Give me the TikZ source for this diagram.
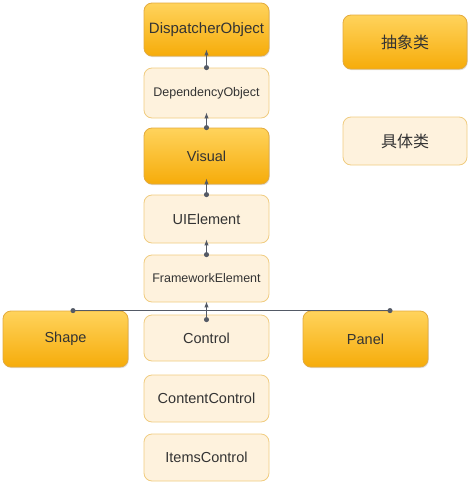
\documentclass[tikz,border=0pt]{standalone}
\usepackage{fontspec}
\setmainfont{Liberation Sans}
\newfontfamily\cjk{Noto Sans CJK SC}
\usetikzlibrary{arrows.meta,shadows}
\definecolor{txt}{HTML}{333333}
\definecolor{absTop}{HTML}{FFD35C}
\definecolor{absBot}{HTML}{F6AC0A}
\definecolor{absBorder}{HTML}{E3AA3C}
\definecolor{conFill}{HTML}{FEF2DD}
\definecolor{conBorder}{HTML}{F0CC80}
\definecolor{lineC}{HTML}{545A66}
\tikzset{
  box/.style={rounded corners=8pt, minimum width=125pt, inner sep=0pt, text=txt, font=\fontsize{14.5}{16}\selectfont, line width=0.8pt},
  absbox/.style={box, draw=absBorder, top color=absTop, bottom color=absBot, drop shadow={shadow xshift=0.8pt, shadow yshift=-1.2pt, opacity=0.25}},
  conbox/.style={box, draw=conBorder, fill=conFill},
  small/.style={font=\fontsize{12.5}{14}\selectfont},
  conn/.style={draw=lineC, line width=1pt, {Circle[length=5pt]}-{Latex[length=6pt,width=4.5pt]}, shorten <=-2.5pt},
  hline/.style={draw=lineC, line width=1pt, {Circle[length=5pt]}-{Circle[length=5pt]}, shorten <=-2.5pt, shorten >=-2.5pt}
}
\begin{document}
\begin{tikzpicture}[x=1pt,y=-1pt]
\useasboundingbox (0,0) rectangle (474,488);
\node[absbox, minimum height=53pt, font=\fontsize{15}{17}\selectfont] (disp) at (206.5,29.5) {DispatcherObject};
\node[conbox, small, minimum height=50pt] (dep) at (206.5,93) {DependencyObject};
\node[absbox, minimum height=56pt] (vis) at (206.5,156) {Visual};
\node[conbox, minimum height=48pt] (ui) at (206.5,219) {UIElement};
\node[conbox, small, minimum height=47pt] (fw) at (206.5,278.5) {FrameworkElement};
\node[conbox, minimum height=46pt] (ctrl) at (206.5,338) {Control};
\node[conbox, minimum height=47pt] (cc) at (206.5,398.5) {ContentControl};
\node[conbox, minimum height=47pt] (ic) at (206.5,457.5) {ItemsControl};
\node[absbox, minimum height=56pt] (shape) at (65.5,339) {Shape};
\node[absbox, minimum height=56pt] (panel) at (365.5,339) {Panel};
\node[absbox, minimum width=124pt, minimum height=54pt, font=\cjk\fontsize{16}{18}\selectfont] (labs) at (405,42) {抽象类};
\node[conbox, minimum width=124pt, minimum height=48pt, font=\cjk\fontsize{16}{18}\selectfont] (lcon) at (405,141) {具体类};
\draw[conn, shorten >=-7pt] (dep.north) -- (disp.south);
\draw[conn, shorten >=-6pt] (vis.north) -- (dep.south);
\draw[conn, shorten >=-6pt] (ui.north) -- (vis.south);
\draw[conn, shorten >=-4pt] (fw.north) -- (ui.south);
\draw[hline] ([xshift=7.5pt]shape.north) -- ([xshift=24.5pt]panel.north);
\draw[conn, shorten <=-7.5pt, shorten >=-1pt] (ctrl.north) -- (fw.south);
\end{tikzpicture}
\end{document}
